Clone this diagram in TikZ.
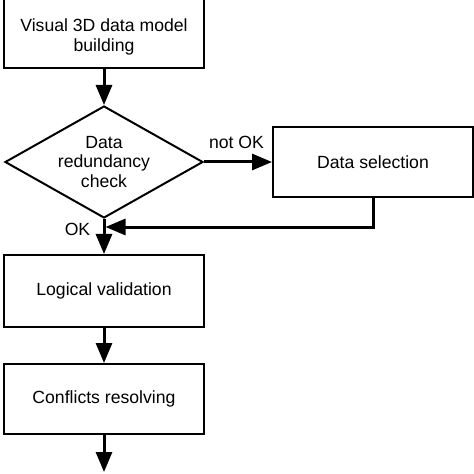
\documentclass[tikz,border=0pt]{standalone}
\usepackage{fontspec}
\setmainfont{Liberation Sans}
\usetikzlibrary{shapes.geometric,arrows.meta}
\begin{document}
\begin{tikzpicture}[x=1bp,y=-1bp,
  box/.style={draw=black,line width=2bp,rectangle,minimum width=200bp,inner sep=0pt,align=center},
  decision/.style={draw=black,line width=2bp,diamond,aspect=1.768,minimum width=198bp,minimum height=112bp,inner sep=0pt,align=center},
  arr/.style={line width=3bp,-{Triangle[length=20bp,width=16bp]}},
  lbl/.style={inner sep=0pt},
  every node/.append style={font=\fontsize{17.7}{20}\selectfont}]
\useasboundingbox (0,0) rectangle (474,474);
\clip (0,0) rectangle (474,474);
\node (top) [box,minimum height=80bp] at (104,28) {};
\node (toptext) [lbl,align=center] at (104,37) {Visual 3D data model\\building};
\node (check) [decision] at (104,162) {Data\\redundancy\\check};
\node (sel) [box,minimum height=70bp] at (373,162) {Data selection};
\node (logic) [box,minimum height=72bp] at (104,291) {Logical validation};
\node (conf) [box,minimum height=70bp] at (104,399) {Conflicts resolving};
\coordinate (join) at (104,227);
\coordinate (endpt) at (104,472);
\draw[arr] (top.south) -- (check.north);
\draw[arr] (check.east) -- (sel.west);
\draw[arr,shorten >=1.5bp] (sel.south) |- (join);
\draw[arr] (check.south) -- (logic.north);
\draw[arr] (logic.south) -- (conf.north);
\draw[arr] (conf.south) -- (endpt);
\node (notok) [lbl] at (236.5,142) {not OK};
\node (ok) [lbl] at (77.5,229) {OK};
\end{tikzpicture}
\end{document}
